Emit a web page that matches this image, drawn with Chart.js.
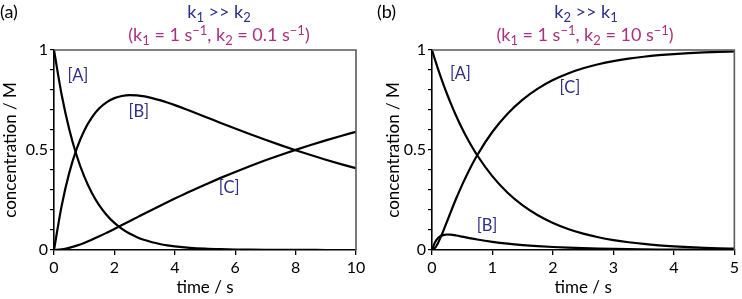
<!DOCTYPE html>
<html>
<head>
<meta charset="utf-8">
<script src="https://cdn.jsdelivr.net/npm/chart.js@4/dist/chart.umd.min.js"></script>
<style>
  html, body { margin: 0; padding: 0; background: #fff; }
  body { width: 742px; height: 299px; position: relative; overflow: hidden; font-family: Lato, "Open Sans", sans-serif; }
  .panel { position: absolute; top: 0; width: 371px; height: 299px; }
  .tag { position: absolute; top: 0px; font-size: 18px; line-height: 22px; color: #000; }
  .ttl { position: absolute; transform: translateX(-50%); white-space: nowrap; font-size: 18px; line-height: 22px; }
  .l1 { top: 0px; color: #2e2d88; }
  .l2 { top: 23px; color: #a8327f; }
  sub { font-size: 0.72em; vertical-align: -0.28em; line-height: 0; }
  sup { font-size: 0.72em; vertical-align: 0.45em; line-height: 0; }
</style>
</head>
<body>
<div class="panel" style="left:0"><canvas id="ca" width="371" height="299"></canvas></div>
<div class="panel" style="left:371px"><canvas id="cb" width="371" height="299"></canvas></div>
<div class="tag" style="left:0px">(a)</div>
<div class="tag" style="left:377px">(b)</div>
<div class="ttl l1" style="left:219px">k<sub>1</sub> &gt;&gt; k<sub>2</sub></div>
<div class="ttl l2" style="left:219px">(k<sub>1</sub> = 1 s<sup>−1</sup>, k<sub>2</sub> = 0.1 s<sup>−1</sup>)</div>
<div class="ttl l1" style="left:586px">k<sub>2</sub> &gt;&gt; k<sub>1</sub></div>
<div class="ttl l2" style="left:585px">(k<sub>1</sub> = 1 s<sup>−1</sup>, k<sub>2</sub> = 10 s<sup>−1</sup>)</div>
<script>
// ---- Panel (a): k1 = 1, k2 = 0.1 ----
const leftTime = [0,0.25,0.5,0.75,1,1.25,1.5,1.75,2,2.25,2.5,2.75,3,3.25,3.5,3.75,4,4.5,5,5.5,6,6.5,7,7.5,8,8.5,9,9.5,10];
const leftA = [1,0.7788,0.6065,0.4724,0.3679,0.2865,0.2231,0.1738,0.1353,0.1054,0.0821,0.0639,0.0498,0.0388,0.0302,0.0235,0.0183,0.0111,0.0067,0.0041,0.0025,0.0015,0.0009,0.0006,0.0003,0.0002,0.0001,0.0001,0];
const leftB = [0,0.2183,0.3830,0.5059,0.5966,0.6622,0.7085,0.7396,0.7594,0.7701,0.7741,0.7730,0.7678,0.7597,0.7494,0.7375,0.7245,0.6961,0.6665,0.6365,0.6070,0.5784,0.5508,0.5242,0.4989,0.4747,0.4516,0.4296,0.4088];
const leftC = [0,0.0029,0.0105,0.0217,0.0355,0.0513,0.0684,0.0866,0.1053,0.1245,0.1438,0.1631,0.1824,0.2015,0.2204,0.2390,0.2572,0.2928,0.3268,0.3594,0.3905,0.4201,0.4483,0.4752,0.5008,0.5251,0.5483,0.5703,0.5912];

// ---- Panel (b): k1 = 1, k2 = 10 ----
const rightTime = [0,0.05,0.1,0.15,0.2,0.25,0.3,0.4,0.5,0.6,0.75,1,1.25,1.5,1.75,2,2.25,2.5,2.75,3,3.25,3.5,3.75,4,4.25,4.5,4.75,5];
const rightA = [1,0.9512,0.9048,0.8607,0.8187,0.7788,0.7408,0.6703,0.6065,0.5488,0.4724,0.3679,0.2865,0.2231,0.1738,0.1353,0.1054,0.0821,0.0639,0.0498,0.0388,0.0302,0.0235,0.0183,0.0143,0.0111,0.0087,0.0067];
const rightB = [0,0.0383,0.0597,0.0708,0.0759,0.0774,0.0768,0.0724,0.0666,0.0607,0.0524,0.0409,0.0318,0.0248,0.0193,0.0150,0.0117,0.0091,0.0071,0.0055,0.0043,0.0034,0.0026,0.0020,0.0016,0.0012,0.0010,0.0007];
const rightC = [0,0.0105,0.0355,0.0685,0.1054,0.1438,0.1824,0.2573,0.3269,0.3905,0.4752,0.5912,0.6817,0.7521,0.8069,0.8497,0.8829,0.9088,0.9290,0.9447,0.9569,0.9664,0.9739,0.9797,0.9841,0.9877,0.9904,0.9926];

// Curve label names and anchor points (data units)
const seriesNames = ['[A]','[B]','[C]'];
const leftLabelAt = [[0.79,0.87],[2.81,0.69],[5.8,0.31]];
const rightLabelAt = [[0.47,0.88],[0.91,0.12],[2.28,0.81]];

const yTickLabels = {0:'0', 0.5:'0.5', 1:'1'};
const xLabel = 'time / s';
const yLabel = 'concentration / M';

const FONT = 'Lato, "Open Sans", sans-serif';
const NAVY = '#2e2d88';

function pts(xs, ys) { return xs.map((x, i) => ({x: x, y: ys[i]})); }

const framePlugin = {
  id: 'frame',
  afterDatasetsDraw(chart) {
    const a = chart.chartArea, c = chart.ctx;
    c.save();
    c.strokeStyle = '#5a5a5a';
    c.lineWidth = 1.6;
    c.beginPath();
    c.moveTo(a.left, a.top);
    c.lineTo(a.right, a.top);
    c.lineTo(a.right, a.bottom);
    c.stroke();
    c.restore();
  }
};

const labelPlugin = {
  id: 'curveLabels',
  afterDatasetsDraw(chart, args, opts) {
    const c = chart.ctx, xs = chart.scales.x, ys = chart.scales.y;
    c.save();
    c.font = '16.5px ' + FONT;
    c.fillStyle = NAVY;
    c.textAlign = 'center';
    c.textBaseline = 'middle';
    (opts.items || []).forEach((p, i) => {
      c.fillText(opts.names[i], xs.getPixelForValue(p[0]), ys.getPixelForValue(p[1]));
    });
    c.restore();
  }
};

function makeChart(id, T, A, B, C, xmax, xstep, pad, yW, labelAt) {
  const ds = (d) => ({
    data: pts(T, d), borderColor: '#000', borderWidth: 2.2, pointRadius: 0,
    cubicInterpolationMode: 'monotone', fill: false
  });
  return new Chart(document.getElementById(id), {
    type: 'line',
    data: { datasets: [ds(A), ds(B), ds(C)] },
    options: {
      responsive: false, animation: false, devicePixelRatio: 1,
      layout: { padding: pad },
      plugins: {
        legend: { display: false }, tooltip: { enabled: false },
        curveLabels: { items: labelAt, names: seriesNames }
      },
      scales: {
        x: {
          type: 'linear', min: 0, max: xmax,
          afterFit(s) { s.height = 49; },
          ticks: { stepSize: xstep, color: '#000', font: { family: FONT, size: 16 }, padding: 3, maxRotation: 0 },
          grid: { drawOnChartArea: false, tickLength: 5, color: '#000', lineWidth: 1.3 },
          border: { color: '#000', width: 1.6 },
          title: { display: true, text: xLabel, color: '#000', font: { family: FONT, size: 17 }, padding: { top: 0, bottom: 1 } }
        },
        y: {
          min: 0, max: 1,
          afterFit(s) { s.width = yW; },
          ticks: {
            stepSize: 0.1, autoSkip: false, color: '#000', font: { family: FONT, size: 16 }, padding: 2,
            callback(v) {
              for (const k in yTickLabels) { if (Math.abs(v - Number(k)) < 1e-9) return yTickLabels[k]; }
              return '';
            }
          },
          grid: { drawOnChartArea: false, tickLength: 4, color: '#000', lineWidth: 1.2 },
          border: { color: '#000', width: 1.6 },
          title: { display: true, text: yLabel, color: '#000', font: { family: FONT, size: 17 }, padding: { top: 0, bottom: 0 } }
        }
      }
    },
    plugins: [framePlugin, labelPlugin]
  });
}

makeChart('ca', leftTime, leftA, leftB, leftC, 10, 2, { left: 0, right: 15, top: 50, bottom: 0 }, 54, leftLabelAt);
makeChart('cb', rightTime, rightA, rightB, rightC, 5, 1, { left: 12, right: 4, top: 50, bottom: 0 }, 49, rightLabelAt);
</script>
</body>
</html>
